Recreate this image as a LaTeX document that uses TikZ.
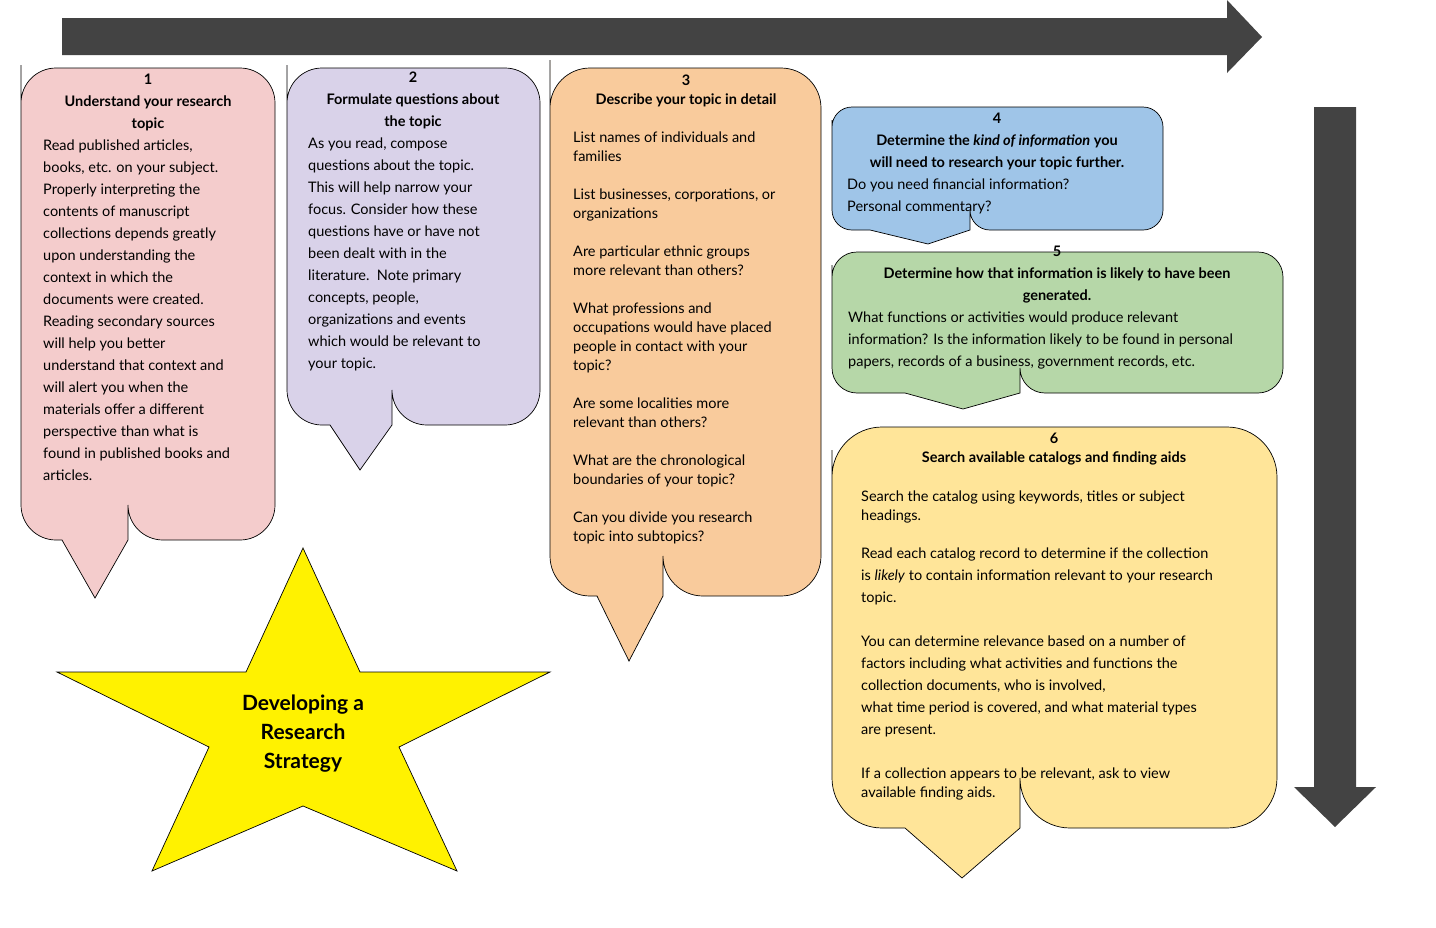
\documentclass[tikz,border=0pt]{standalone}
\usepackage{fontspec}
\setmainfont{Lato}
\definecolor{cpink}{HTML}{F4CCCC}
\definecolor{cpurp}{HTML}{D9D2E9}
\definecolor{corng}{HTML}{F9CB9C}
\definecolor{cblue}{HTML}{9FC5E8}
\definecolor{cgreen}{HTML}{B6D7A8}
\definecolor{cyell}{HTML}{FFE599}
\definecolor{cdark}{HTML}{434343}
\newcommand{\callout}[9]{% x1 y1 x2 y2 r tl tipx tipy tr ; color via #9? 
}
\newcommand{\balloon}[5]{% color, x1/y1/x2/y2/r, tl/tipx/tipy/tr
  \def\bcol{#1}%
  \path[draw=black,line width=0.8pt,fill=\bcol,rounded corners=#5]
    (#2,#3) -- ++(0,0) ;
}
\begin{document}
\begin{tikzpicture}[x=1pt,y=-1pt,
  body/.style={anchor=north west,inner sep=0pt,align=left,font=\fontsize{14.5}{22}\selectfont},
  ttl/.style={anchor=north,inner sep=0pt,align=center,font=\fontsize{14.5}{22}\selectfont\bfseries},
  bal/.style={draw=black,line width=0.7pt}]
\useasboundingbox (0,0) rectangle (1436,927);
% arrows
\fill[cdark] (62,18) -- (1227,18) -- (1227,0) -- (1262,37) -- (1227,73) -- (1227,55) -- (62,55) -- cycle;
\fill[cdark] (1314,107) -- (1356,107) -- (1356,787) -- (1376,787) -- (1335,827) -- (1294,787) -- (1314,787) -- cycle;
% balloons
\newcommand{\bln}[9]{%
  \draw[bal,fill=#1,rounded corners=#6] (#2,#3) -- (#4,#3) -- (#4,#5) [sharp corners]-- (#9,#5) -- (#8) -- (#7,#5) [rounded corners=#6]-- (#2,#5) -- cycle;}
\draw[bal,fill=cpink] (21,100) [rounded corners=35]-- (21,68) -- (275,68) -- (275,540) -- (128,540) [sharp corners]-- (128,540) -- (95,598) -- (62,540) [rounded corners=35]-- (21,540) -- (21,100) [sharp corners] -- cycle;
\draw[bal,fill=cpurp] (287,100) [rounded corners=35]-- (287,68) -- (540,68) -- (540,425) -- (392,425) [sharp corners]-- (392,425) -- (360,470) -- (330,425) [rounded corners=35]-- (287,425) -- (287,100) [sharp corners] -- cycle;
\draw[bal,fill=corng] (550,100) [rounded corners=40]-- (550,68) -- (821,68) -- (821,596) -- (663,596) [sharp corners]-- (663,596) -- (629,661) -- (597,596) [rounded corners=40]-- (550,596) -- (550,100) [sharp corners] -- cycle;
\draw[bal,fill=cblue] (832,140) [rounded corners=20]-- (832,107) -- (1163,107) -- (1163,230) -- (970,230) [sharp corners]-- (970,230) -- (928,244) -- (870,230) [rounded corners=20]-- (832,230) -- (832,140) [sharp corners] -- cycle;
\draw[bal,fill=cgreen] (832,290) [rounded corners=25]-- (832,252) -- (1283,252) -- (1283,393) -- (1020,393) [sharp corners]-- (1020,393) -- (963,409) -- (905,393) [rounded corners=25]-- (832,393) -- (832,290) [sharp corners] -- cycle;
\draw[bal,fill=cyell] (832,500) [rounded corners=50]-- (832,427) -- (1277,427) -- (1277,828) -- (1020,828) [sharp corners]-- (1020,828) -- (962,878) -- (905,828) [rounded corners=50]-- (832,828) -- (832,500) [sharp corners] -- cycle;
% star
\draw[bal,fill=yellow] (303,548) -- (360,672) -- (550,672) -- (399,747) -- (457,871) -- (303,806) -- (152,871) -- (209,747) -- (57,672) -- (246,672) -- cycle;
\node (star) [inner sep=0pt,align=center,font=\fontsize{21}{29}\selectfont\bfseries] at (303,734) {Developing a\\Research\\Strategy};
% texts
\node (t1) [ttl] at (148,74) {1\\Understand your research\\topic};
\node (b1) [body] at (43,140) {Read published articles,\\books, etc. on your subject.\\Properly interpreting the\\contents of manuscript\\collections depends greatly\\upon understanding the\\context in which the\\documents were created.\\Reading secondary sources\\will help you better\\understand that context and\\will alert you when the\\materials offer a different\\perspective than what is\\found in published books and\\articles.};
\node (t2) [ttl] at (413,72) {2\\Formulate questions about\\the topic};
\node (b2) [body] at (308,138) {As you read, compose\\questions about the topic.\\This will help narrow your\\focus. Consider how these\\questions have or have not\\been dealt with in the\\literature.\ \ Note primary\\concepts, people,\\organizations and events\\which would be relevant to\\your topic.};
\node (t3) [ttl,font=\fontsize{14.5}{19}\selectfont\bfseries] at (686,75) {3\\Describe your topic in detail};
\node (b3) [body,font=\fontsize{14.5}{19}\selectfont] at (573,132) {List names of individuals and\\families\\[19pt]List businesses, corporations, or\\organizations\\[19pt]Are particular ethnic groups\\more relevant than others?\\[19pt]What professions and\\occupations would have placed\\people in contact with your\\topic?\\[19pt]Are some localities more\\relevant than others?\\[19pt]What are the chronological\\boundaries of your topic?\\[19pt]Can you divide you research\\topic into subtopics?};
\node (t4) [ttl] at (997,113) {4\\Determine the \textit{kind of information} you\\will need to research your topic further.};
\node (b4) [body] at (847,179) {Do you need financial information?\\Personal commentary?};
\node (t5) [ttl] at (1057,246) {5\\Determine how that information is likely to have been\\generated.};
\node (b5) [body] at (848,312) {What functions or activities would produce relevant\\information? Is the information likely to be found in personal\\papers, records of a business, government records, etc.};
\node (t6) [ttl,font=\fontsize{14.5}{19}\selectfont\bfseries] at (1054,433) {6\\Search available catalogs and finding aids};
\node (b6) [body,font=\fontsize{14.5}{19}\selectfont] at (861,491) {Search the catalog using keywords, titles or subject\\headings.\\[19pt]Read each catalog record to determine if the collection\\[3pt]is \textit{likely} to contain information relevant to your research\\[3pt]topic.\\[25pt]You can determine relevance based on a number of\\[3pt]factors including what activities and functions the\\[3pt]collection documents, who is involved,\\[3pt]what time period is covered, and what material types\\[3pt]are present.\\[25pt]If a collection appears to be relevant, ask to view\\available finding aids.};
\end{tikzpicture}
\end{document}
